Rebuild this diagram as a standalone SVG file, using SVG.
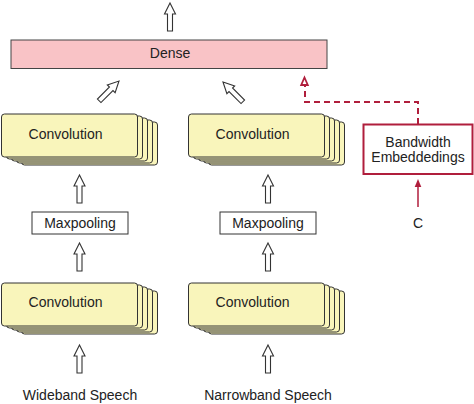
<svg xmlns="http://www.w3.org/2000/svg" xmlns:xlink="http://www.w3.org/1999/xlink" width="474" height="404" viewBox="0 0 474 404">
<style>
text{font-family:"Liberation Sans",Arial,sans-serif;font-size:14px;fill:#222;text-anchor:middle}
.conv{fill:#f9f5bb;stroke:#333;stroke-width:1}
.box{fill:#fff;stroke:#333;stroke-width:1}
.hol{fill:#fff;stroke:#333;stroke-width:1.1;stroke-linejoin:miter}
.red{stroke:#b01e3c;stroke-width:2;fill:none}
</style>
<defs>
<path id="ha" d="M0,0 L5.5,11 L2.5,11 L2.5,28 L-2.5,28 L-2.5,11 L-5.5,11 Z"/>
<g id="stack">
<rect class="conv" x="20" y="8" width="136" height="43" rx="3"/>
<rect class="conv" x="15" y="6" width="136" height="43" rx="3"/>
<rect class="conv" x="10" y="4" width="136" height="43" rx="3"/>
<rect class="conv" x="5" y="2" width="136" height="43" rx="3"/>
<rect class="conv" x="0" y="0" width="136" height="43" rx="3"/>
</g>
</defs>
<g id="dense">
<rect x="11" y="40" width="316" height="28.5" fill="#f9c3c6" stroke="#444" stroke-width="1"/>
<text x="170" y="58">Dense</text>
</g>
<g id="conv-wide-top">
<use xlink:href="#stack" transform="translate(1.5,114)"/>
<text x="65.5" y="139">Convolution</text>
</g>
<g id="conv-narrow-top">
<use xlink:href="#stack" transform="translate(188.5,114)"/>
<text x="252.5" y="139">Convolution</text>
</g>
<g id="maxpool-wide">
<rect class="box" x="32" y="212" width="96" height="22"/>
<text x="80" y="228">Maxpooling</text>
</g>
<g id="maxpool-narrow">
<rect class="box" x="220" y="212" width="96" height="22"/>
<text x="268" y="228">Maxpooling</text>
</g>
<g id="conv-wide-bottom">
<use xlink:href="#stack" transform="translate(1.5,283)"/>
<text x="65.5" y="307">Convolution</text>
</g>
<g id="conv-narrow-bottom">
<use xlink:href="#stack" transform="translate(188.5,283)"/>
<text x="252.5" y="307">Convolution</text>
</g>
<g id="bandwidth">
<rect x="363.5" y="124.5" width="109" height="49.5" fill="#fff" stroke="#b01e3c" stroke-width="2"/>
<text x="418" y="147">Bandwidth</text>
<text x="418" y="162">Embeddedings</text>
</g>
<g id="input-wide"><text x="80" y="400">Wideband Speech</text></g>
<g id="input-narrow"><text x="268" y="400">Narrowband Speech</text></g>
<g id="input-c"><text x="418" y="228">C</text></g>
<g id="connectors">
<use xlink:href="#ha" class="hol" transform="translate(170,3)"/>
<use xlink:href="#ha" class="hol" transform="translate(119,81) rotate(45)"/>
<use xlink:href="#ha" class="hol" transform="translate(223,82) rotate(-45)"/>
<use xlink:href="#ha" class="hol" transform="translate(79.5,175)"/>
<use xlink:href="#ha" class="hol" transform="translate(268,175)"/>
<use xlink:href="#ha" class="hol" transform="translate(79.5,243)"/>
<use xlink:href="#ha" class="hol" transform="translate(268,243)"/>
<use xlink:href="#ha" class="hol" transform="translate(79.5,345)"/>
<use xlink:href="#ha" class="hol" transform="translate(268,345)"/>
<path class="red" d="M418,124 V102 H305 V86" stroke-dasharray="6,4"/>
<polygon points="304.5,77.5 307.8,85 301.2,85" fill="#fff" stroke="#b01e3c" stroke-width="1.8"/>
<line x1="418" y1="207" x2="418" y2="186" stroke="#b01e3c" stroke-width="1.5"/>
<polygon points="418,179 421.3,187 414.7,187" fill="#b01e3c"/>
</g>
</svg>
